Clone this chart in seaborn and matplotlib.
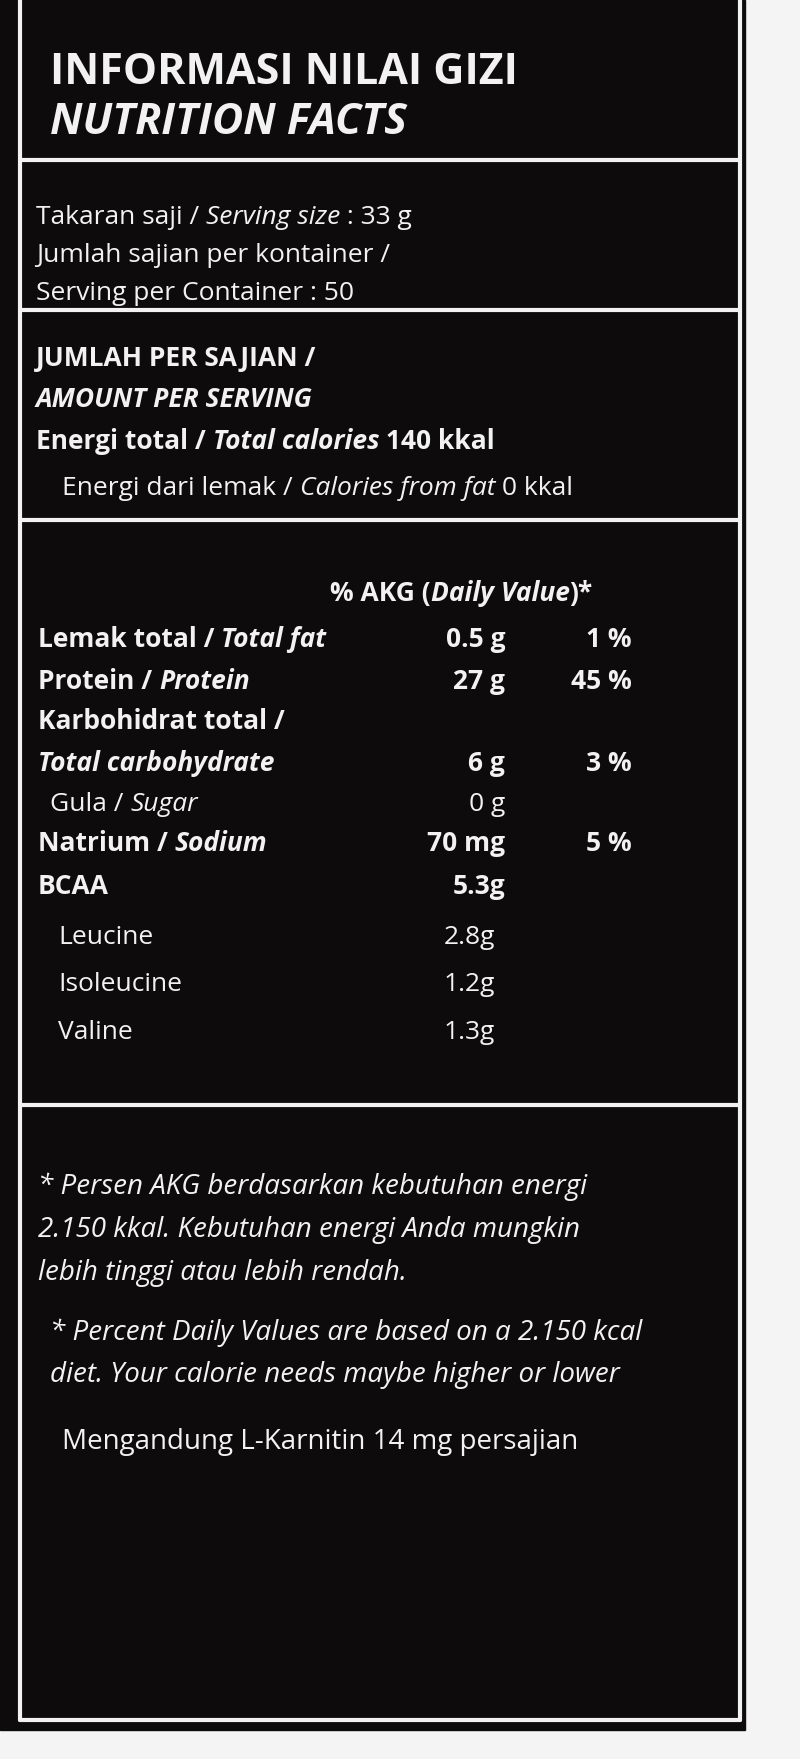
import matplotlib
matplotlib.use("Agg")
import matplotlib.pyplot as plt
import seaborn as sns

sns.set_theme(style="white")
plt.rcParams['font.family'] = ['Open Sans', 'DejaVu Sans']

# ---- data ----
title_lines = ["INFORMASI NILAI GIZI", "NUTRITION FACTS"]
serving_lines = [[("Takaran saji / ", "normal", "normal"), ("Serving size", "normal", "italic"), (" : 33 g", "normal", "normal")],
                 [("Jumlah sajian per kontainer /", "normal", "normal")],
                 [("Serving per Container : 50", "normal", "normal")]]
nutrient_id = ["Lemak total / ", "Protein / ", "Karbohidrat total /", "", "Gula / ", "Natrium / ", "BCAA", "Leucine", "Isoleucine", "Valine"]
nutrient_en = ["Total fat", "Protein", "", "Total carbohydrate", "Sugar", "Sodium", "", "", "", ""]
amounts = ["0.5 g", "27 g", "", "6 g", "0 g", "70 mg", "5.3g", "2.8g", "1.2g", "1.3g"]
percents = ["1 %", "45 %", "", "3 %", "", "5 %", "", "", "", ""]
row_bold = [True, True, True, True, False, True, True, False, False, False]
row_indent = [0, 0, 0, 0, 12, 0, 0, 20, 20, 20]
row_y = [638, 680, 720, 762, 802, 842, 885, 935, 982, 1030]

FS = 19
fig = plt.figure(figsize=(8, 17.59), dpi=100)
fig.patch.set_facecolor("#f4f4f4")
ax = fig.add_axes([0, 0, 1, 1])
ax.set_xlim(0, 800)
ax.set_ylim(1759, 0)
ax.axis("off")
ax.add_patch(plt.Rectangle((0, 0), 745, 1730, color="#0d0b0b", zorder=0))
sns.despine(ax=ax, left=True, bottom=True)
W = "#f2f2f2"
for y in [160, 310, 520, 1105, 1720]:
    ax.plot([20, 740], [y, y], color=W, lw=3)
ax.plot([20, 20], [0, 1720], color=W, lw=3)
ax.plot([740, 740], [0, 1720], color=W, lw=3)

r = fig.canvas.get_renderer()

def seg(x, y, parts, size):
    for s, w, st in parts:
        t = ax.text(x, y, s, color=W, fontsize=size, fontweight=w, fontstyle=st, va="baseline")
        x += t.get_window_extent(r).width
    return x

seg(50, 84, [(title_lines[0], "bold", "normal")], 31)
seg(50, 134, [(title_lines[1], "bold", "italic")], 31)
for i, parts in enumerate(serving_lines):
    seg(36, 224 + 38 * i, parts, FS)
seg(36, 366, [("JUMLAH PER SAJIAN /", "bold", "normal")], FS)
seg(36, 407, [("AMOUNT PER SERVING", "bold", "italic")], FS)
seg(36, 449, [("Energi total / ", "bold", "normal"), ("Total calories", "bold", "italic"), (" 140 kkal", "bold", "normal")], FS)
seg(62, 495, [("Energi dari lemak / ", "normal", "normal"), ("Calories from fat", "normal", "italic"), (" 0 kkal", "normal", "normal")], FS)
seg(330, 601, [("% AKG (", "bold", "normal"), ("Daily Value", "bold", "italic"), (")*", "bold", "normal")], FS)

for i in range(len(nutrient_id)):
    w = "bold" if row_bold[i] else "normal"
    y = row_y[i] + 9
    parts = []
    if nutrient_id[i]:
        parts.append((nutrient_id[i], w, "normal"))
    if nutrient_en[i]:
        parts.append((nutrient_en[i], w, "italic"))
    seg(38 + row_indent[i], y, parts, FS)
    if amounts[i]:
        if row_bold[i] or i == 4:
            ax.text(505, y, amounts[i], color=W, fontsize=FS, fontweight=w, ha="right", va="baseline")
        else:
            ax.text(444, y, amounts[i], color=W, fontsize=FS, fontweight=w, ha="left", va="baseline")
    if percents[i]:
        ax.text(632, y, percents[i], color=W, fontsize=FS, fontweight="bold", ha="right", va="baseline")

foot = ["* Persen AKG berdasarkan kebutuhan energi", "2.150 kkal. Kebutuhan energi Anda mungkin", "lebih tinggi atau lebih rendah."]
for i, s in enumerate(foot):
    ax.text(38, 1194 + 43 * i, s, color=W, fontsize=20, fontstyle="italic", va="baseline")
foot2 = ["* Percent Daily Values are based on a 2.150 kcal", "diet. Your calorie needs maybe higher or lower"]
for i, s in enumerate(foot2):
    ax.text(50, 1340 + 42 * i, s, color=W, fontsize=20, fontstyle="italic", va="baseline")
ax.text(62, 1449, "Mengandung L-Karnitin 14 mg persajian", color=W, fontsize=20, va="baseline")

fig.savefig("out.png", dpi=100, facecolor=fig.get_facecolor())
